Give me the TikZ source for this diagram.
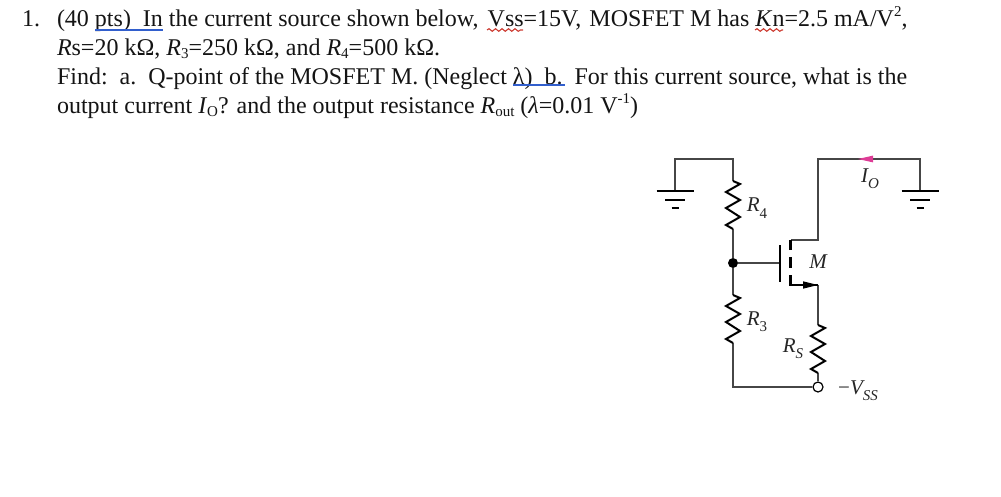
\documentclass[tikz,border=0pt]{standalone}
\usepackage{fontspec}
\setmainfont{Liberation Serif}
\usetikzlibrary{decorations.pathmorphing}
\definecolor{wire}{RGB}{70,70,70}
\definecolor{docblue}{RGB}{50,95,205}
\definecolor{docred}{RGB}{205,60,50}
\definecolor{ipink}{RGB}{222,60,150}
\newcommand{\sbs}[1]{\raisebox{-0.12em}{\fontsize{15}{15}\selectfont #1}}
\newcommand{\sps}[1]{\raisebox{0.42em}{\fontsize{15}{15}\selectfont #1}}
\newcommand{\csb}[1]{\raisebox{-0.3em}{\fontsize{15}{15}\selectfont #1}}
\tikzset{
  x=1pt,y=-1pt,
  line/.style={anchor=base west,inner sep=0pt,outer sep=0pt,font=\fontsize{24}{24}\selectfont,text=black!92},
  clabel/.style={inner sep=0pt,font=\fontsize{21}{21}\selectfont\itshape,text=black!85},
  wirepath/.style={draw=wire,line width=1.6pt},
  heavy/.style={draw=black,line width=2pt,line join=miter},
  plate/.style={draw=black,line width=2pt},
  chan/.style={draw=black,line width=2.6pt},
  blueline/.style={draw=docblue,line width=2pt},
  wavy/.style={draw=docred,line width=1.1pt,decorate,decoration={snake,amplitude=1.3pt,segment length=6.5pt}},
}
\newcommand{\grnd}[1]{%
  \draw[plate] ([xshift=-18.5pt]#1) -- ([xshift=18.5pt]#1);
  \draw[plate] ([xshift=-10pt,yshift=-9pt]#1) -- ([xshift=10pt,yshift=-9pt]#1);
  \draw[plate] ([xshift=-3.5pt,yshift=-17pt]#1) -- ([xshift=3.5pt,yshift=-17pt]#1);}
\newcommand{\zig}[1]{%
  \draw[heavy] (#1) -- ++(7,3) -- ++(-14,8) -- ++(14,8) -- ++(-14,8) -- ++(14,9) -- ++(-14,8) -- ++(7,4);}
\begin{document}
\begin{tikzpicture}
\useasboundingbox (0,0) rectangle (1001,497);
% text
\node[line] (n1) at (22,26.5) {1.};
\node[line] (t1) at (57,26.5) {(40 pts)\hspace{6pt} In the current source shown below,\hspace{3pt} Vss=15V,\hspace{2pt} MOSFET M has \textit{K}n=2.5 mA/V\sps{2},};
\node[line] (t2) at (57,56) {\textit{R}s=20 kΩ, \textit{R}\sbs{3}=250 kΩ, and \textit{R}\sbs{4}=500 kΩ.};
\node[line] (t3) at (57,84.5) {Find:\ \ a.\ \ Q-point of the MOSFET M. (Neglect λ)\ \ b.\ \ For this current source, what is the};
\node[line] (t4) at (57,114) {output current \textit{I}\sbs{O}? and the output resistance \textit{R}\sbs{out} (\textit{λ}=0.01 V\sps{-1})};
\coordinate (u1a) at (95,30); \coordinate (u1b) at (163,30);
\coordinate (u2a) at (513,85.5); \coordinate (u2b) at (565,85.5);
\coordinate (w1a) at (487,30); \coordinate (w1b) at (523,30);
\coordinate (w2a) at (755,30); \coordinate (w2b) at (783,30);
\draw[blueline] (u1a) -- (u1b);
\draw[blueline] (u2a) -- (u2b);
\draw[wavy] (w1a) -- (w1b);
\draw[wavy] (w2a) -- (w2b);
% circuit coordinates
\coordinate (gl) at (675,191);
\coordinate (gr) at (920,191);
\coordinate (tl) at (675,159);
\coordinate (tm) at (733,159);
\coordinate (r4t) at (733,181);
\coordinate (r4b) at (733,229);
\coordinate (r3t) at (733,295);
\coordinate (r3b) at (733,343);
\coordinate (bl) at (733,387);
\coordinate (tr) at (920,159);
\coordinate (td) at (818,159);
\coordinate (dk) at (818,240);
\coordinate (dd) at (790.5,240);
\coordinate (ss) at (790.5,285);
\coordinate (sk) at (818,285);
\coordinate (rst) at (818,325);
\coordinate (rsb) at (818,373);
\node[circle,fill=black,inner sep=0pt,minimum size=10pt] (dot) at (733,263) {};
\node[circle,draw=black,fill=white,line width=1.2pt,inner sep=0pt,minimum size=10pt] (term) at (818,387) {};
\coordinate (gp) at (780,263);
% wires
\draw[wirepath] (gl) -- (tl) -- (tm) -- (r4t);
\draw[wirepath] (r4b) -- (dot) -- (r3t);
\draw[wirepath] (r3b) -- (bl) -- (term);
\draw[wirepath] (dot) -- (gp);
\draw[wirepath] (gr) -- (tr) -- (td) -- (dk) -- (dd);
\draw[wirepath] (sk) -- (rst);
\draw[wirepath] (rsb) -- (term);
\draw[line width=1.8pt,draw=black] (ss) -- (sk);
\fill[black] (sk) -- ++(-15,-3.7) -- ++(0,7.4) -- cycle;
\fill[ipink] (858,159) -- ++(15,-3.4) -- ++(0,6.8) -- cycle;
\grnd{gl}
\grnd{gr}
\zig{r4t}
\zig{r3t}
\zig{rst}
% mosfet
\draw[plate] (780,245) -- (780,282);
\draw[chan] (790.5,240) -- (790.5,250);
\draw[chan] (790.5,257) -- (790.5,268);
\draw[chan] (790.5,275) -- (790.5,286);
% labels
\node[clabel] (lr4) at (757,208) {R\csb{\textup{4}}};
\node[clabel] (lio) at (870,179) {I\csb{O}};
\node[clabel] (lm) at (818,262) {M};
\node[clabel] (lr3) at (757,322) {R\csb{\textup{3}}};
\node[clabel] (lrs) at (793,349) {R\csb{S}};
\node[clabel] (lvss) at (858,391) {\textup{−}V\csb{SS}};
\end{tikzpicture}
\end{document}
